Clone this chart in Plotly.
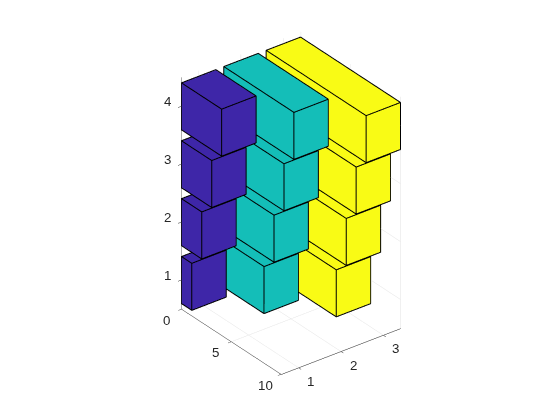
import plotly.graph_objects as go

# bar3h: one column of lengths per colour, rows sit at z = 1..4
columns = [1, 2, 3]
rows = [1, 2, 3, 4]
lengths = [
    [1, 2, 3, 4],
    [4, 5, 6, 7],
    [7, 8, 9, 10],
]
colors = ["#3E26A8", "#14BEB8", "#F9FB15"]
x_ticks = [1, 2, 3]
y_ticks = [0, 5, 10]
z_ticks = [1, 2, 3, 4]

bar_width = 0.8
# a hair wider than the bars, faces sitting right on the limit get clipped
x_lim = [0.59, 3.41]
y_lim = [10.03, -0.03]
z_lim = [0.5, 4.5]
ink = "#262626"
grid = "#E2E2E2"

fig = go.Figure()


def add_bars(col, vals, color):
    xs, ys, zs, ii, jj, kk = [], [], [], [], [], []
    ex, ey, ez = [], [], []
    for row, val in zip(rows, vals):
        n = len(xs)
        x0, x1 = col - bar_width / 2, col + bar_width / 2
        z0, z1 = row - bar_width / 2, row + bar_width / 2
        xs += [x0, x1, x1, x0, x0, x1, x1, x0]
        ys += [0, 0, val, val, 0, 0, val, val]
        zs += [z0, z0, z0, z0, z1, z1, z1, z1]
        faces = [(0, 1, 2), (0, 2, 3), (4, 5, 6), (4, 6, 7), (0, 1, 5), (0, 5, 4),
                 (1, 2, 6), (1, 6, 5), (2, 3, 7), (2, 7, 6), (3, 0, 4), (3, 4, 7)]
        for a, b, c in faces:
            ii.append(n + a)
            jj.append(n + b)
            kk.append(n + c)
        # edges pushed just outside the faces to stop z-fighting
        bx = [x0 - 0.006, x1 + 0.006, x1 + 0.006, x0 - 0.006] * 2
        by = [-0.02, -0.02, val + 0.02, val + 0.02] * 2
        bz = [z0 - 0.006] * 4 + [z1 + 0.006] * 4
        for path in ([0, 1, 2, 3, 0, 4, 5, 6, 7, 4], [1, 5], [2, 6], [3, 7]):
            ex += [bx[p] for p in path] + [None]
            ey += [by[p] for p in path] + [None]
            ez += [bz[p] for p in path] + [None]
    fig.add_trace(go.Mesh3d(x=xs, y=ys, z=zs, i=ii, j=jj, k=kk, color=color, opacity=1,
                            flatshading=True, hoverinfo="skip",
                            lighting=dict(ambient=1, diffuse=0, specular=0, fresnel=0, roughness=1)))
    fig.add_trace(go.Scatter3d(x=ex, y=ey, z=ez, mode="lines", hoverinfo="skip",
                               line=dict(color="black", width=2), showlegend=False))


for col, vals, color in zip(columns, lengths, colors):
    add_bars(col, vals, color)


def tick_label(x, y, z, text, dx, dy):
    return dict(x=x, y=y, z=z, text=str(text), showarrow=False, xshift=dx, yshift=dy,
                font=dict(family="Liberation Sans", size=13.3, color=ink))


# tick labels as scene annotations, the gl ones can't be nudged off the axis
labels = [tick_label(x_lim[0], y_lim[1], t, t, -13, 5) for t in z_ticks]
labels += [tick_label(x_lim[0], t, z_lim[0], t, -15, -11) for t in y_ticks]
labels += [tick_label(t, y_lim[0], z_lim[0], t, 12.5, -13.5) for t in x_ticks]

axis = dict(showbackground=False, showgrid=True, gridcolor=grid, gridwidth=1, zeroline=False,
            showline=True, linecolor=ink, linewidth=1, ticks="outside", ticklen=4, tickcolor=ink,
            showspikes=False, title="", showticklabels=False)

fig.update_layout(
    width=560, height=420,
    margin=dict(l=0, r=0, t=0, b=0),
    paper_bgcolor="white",
    showlegend=False,
    scene=dict(
        xaxis=dict(axis, range=x_lim, tickvals=x_ticks),
        yaxis=dict(axis, range=y_lim, tickvals=y_ticks),
        zaxis=dict(axis, range=z_lim, tickvals=z_ticks),
        aspectmode="manual",
        aspectratio=dict(x=0.745, y=0.815, z=1.325),
        camera=dict(projection=dict(type="orthographic"),
                    center=dict(x=0, y=0, z=-0.04),
                    up=dict(x=0, y=0, z=1),
                    eye=dict(x=-1.353, y=-1.765, z=1.248)),
        domain=dict(x=[0.0225, 0.9865], y=[0.038, 1]),
        annotations=labels,
    ),
)

fig.write_html("out.html")
